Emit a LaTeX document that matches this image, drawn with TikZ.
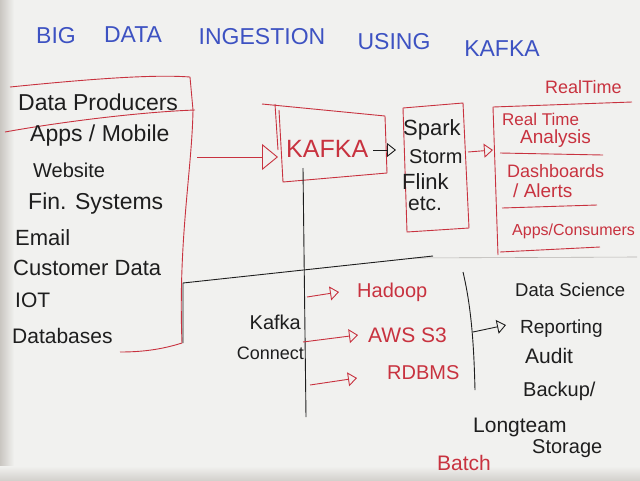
\documentclass[tikz,border=0pt]{standalone}
\usepackage{fontspec}
\setmainfont{Liberation Sans}
\usetikzlibrary{arrows.meta}
\definecolor{pen}{HTML}{C8323F}
\definecolor{ink}{HTML}{1E1E1E}
\definecolor{blu}{HTML}{3D52C2}
\definecolor{paper}{HTML}{F1F1EF}
\definecolor{edge}{HTML}{C9C6C1}
\begin{document}
\begin{tikzpicture}[x=1pt,y=-1pt,
  fs/.style={font=\fontsize{#1}{#1}\selectfont},
  rline/.style={draw=pen, line width=0.9pt, line join=round},
  bline/.style={draw=ink, line width=0.9pt, line join=round},
  rt/.style={text=pen, inner sep=0pt, anchor=west},
  bt/.style={text=ink, inner sep=0pt, anchor=west},
  tt/.style={text=blu, inner sep=0pt, fs=23},
  bigtip/.style={-{Triangle[open,length=16pt,width=26pt]}},
  smalltip/.style={-{Triangle[open,length=9pt,width=14pt]}}]
\useasboundingbox (0,0) rectangle (640,480);
% paper
\fill[paper] (0,0) rectangle (640,480);
\fill[left color=edge, right color=paper] (0,0) rectangle (14,480);
\fill[top color=paper, bottom color=edge!80] (0,466) rectangle (640,480);
\draw[edge!90!black, line width=0.6pt] (413,258) -- (637,257);

% title
\node[tt] (t1) at (56,36) {BIG};
\node[tt] (t2) at (133,35) {DATA};
\node[tt] (t3) at (262,37) {INGESTION};
\node[tt] (t4) at (394,42) {USING};
\node[tt] (t5) at (502,49) {KAFKA};

% producers box
\draw[rline] (10,87) .. controls (80,80) and (150,74) .. (190,77) -- (193,110)
  .. controls (192,170) and (178,240) .. (182,343) .. controls (160,350) and (140,352) .. (120,352);
\draw[rline] (5,132) .. controls (60,122) and (140,112) .. (195,110);
\node[bt, fs=23] (dp) at (18,102) {Data Producers};
\node[bt, fs=23] (apps) at (30,136) {Apps / Mobile};
\node[bt, fs=20] (web) at (33,170) {Website};
\node[bt, fs=23] (fin) at (28,204) {Fin. Systems};
\node[bt, fs=22] (email) at (15,238) {Email};
\node[bt, fs=22] (cust) at (13,268) {Customer Data};
\node[bt, fs=21] (iot) at (15,300) {IOT};
\node[bt, fs=21] (db) at (12,336) {Databases};

% kafka box
\coordinate (k1) at (262,104);
\coordinate (k2) at (385,116);
\coordinate (k3) at (387,173);
\coordinate (k4) at (283,182);
\coordinate (k5) at (279,110);
\draw[rline] (k1) -- (k2) -- (k3) -- (k4) -- (k5);
\draw[rline] (275,104) -- (278,150);
\node[rt, fs=25] (kafka) at (286,149) {KAFKA};

% spark box
\coordinate (s1) at (403,108);
\coordinate (s2) at (463,103);
\coordinate (s3) at (469,228);
\coordinate (s4) at (407,232);
\draw[rline] (s1) -- (s2) -- (s3) -- (s4) -- cycle;
\node[bt, fs=22] (spark) at (403,130) {Spark};
\node[bt, fs=20] (storm) at (409,157) {Storm};
\node[bt, fs=22] (flink) at (402,182) {Flink};
\node[bt, fs=21] (etc) at (408,204) {etc.};

% real time box
\coordinate (r1) at (632,102);
\coordinate (r2) at (493,107);
\coordinate (r3) at (498,255);
\draw[rline] (r1) -- (r2) -- (r3);
\coordinate (ra) at (500,153); \coordinate (rb) at (603,155);
\coordinate (rc) at (502,208); \coordinate (rd) at (597,205);
\coordinate (re) at (500,252); \coordinate (rf) at (600,247);
\draw[rline] (ra) -- (rb);
\draw[rline] (rc) -- (rd);
\draw[rline] (re) -- (rf);
\node[rt, fs=18] (rtime) at (545,87) {RealTime};
\node[rt, fs=17] (rta) at (502,119) {Real Time};
\node[rt, fs=19] (rtb) at (520,139) {Analysis};
\node[rt, fs=18] (dash) at (507,171) {Dashboards};
\node[rt, fs=19] (alert) at (513,191) {/ Alerts};
\node[rt, fs=16] (appc) at (512,231) {Apps/Consumers};

% arrows top row
\coordinate (pa) at (197,157);
\coordinate (pb) at (278,157);
\draw[rline, bigtip] (pa) -- (pb);
\coordinate (ka) at (373,150);
\coordinate (kb) at (396,150);
\draw[bline, smalltip] (ka) -- (kb);
\coordinate (sa) at (468,152);
\coordinate (sb) at (493,150);
\draw[rline, smalltip] (sa) -- (sb);

% connection to kafka connect
\coordinate (c0) at (183,343);
\coordinate (c1) at (183,283);
\coordinate (c2) at (433,256);
\draw[bline] (c0) -- (c1) -- (c2);
\coordinate (v0) at (303,168);
\coordinate (v1) at (306,417);
\draw[bline] (v0) -- (v1);
\node[bt, fs=20, anchor=east] (kc1) at (301,322) {Kafka};
\node[bt, fs=18, anchor=east] (kc2) at (304,353) {Connect};

% batch sinks
\coordinate (h0) at (307,297); \coordinate (h1) at (339,292);
\coordinate (a0) at (303,342); \coordinate (a1) at (358,335);
\coordinate (d0) at (310,385); \coordinate (d1) at (357,378);
\draw[rline, smalltip] (h0) -- (h1);
\draw[rline, smalltip] (a0) -- (a1);
\draw[rline, smalltip] (d0) -- (d1);
\node[rt, fs=20] (hadoop) at (357,292) {Hadoop};
\node[rt, fs=21] (aws) at (368,335) {AWS S3};
\node[rt, fs=20] (rdbms) at (387,373) {RDBMS};

% bracket and batch outputs
\coordinate (g0) at (463,272);
\coordinate (g1) at (475,390);
\draw[bline] (g0) .. controls (472,310) and (474,350) .. (g1);
\coordinate (ba) at (473,332);
\coordinate (bb) at (506,325);
\draw[bline, smalltip] (ba) -- (bb);
\node[bt, fs=18.5] (ds) at (515,290) {Data Science};
\node[bt, fs=19] (rep) at (520,329) {Reporting};
\node[bt, fs=21] (aud) at (525,356) {Audit};
\node[bt, fs=20] (bak) at (523,391) {Backup/};
\node[bt, fs=21] (lt) at (473,427) {Longteam};
\node[bt, fs=20] (st) at (532,449) {Storage};
\node[rt, fs=21] (batch) at (437,463) {Batch};
\end{tikzpicture}
\end{document}
